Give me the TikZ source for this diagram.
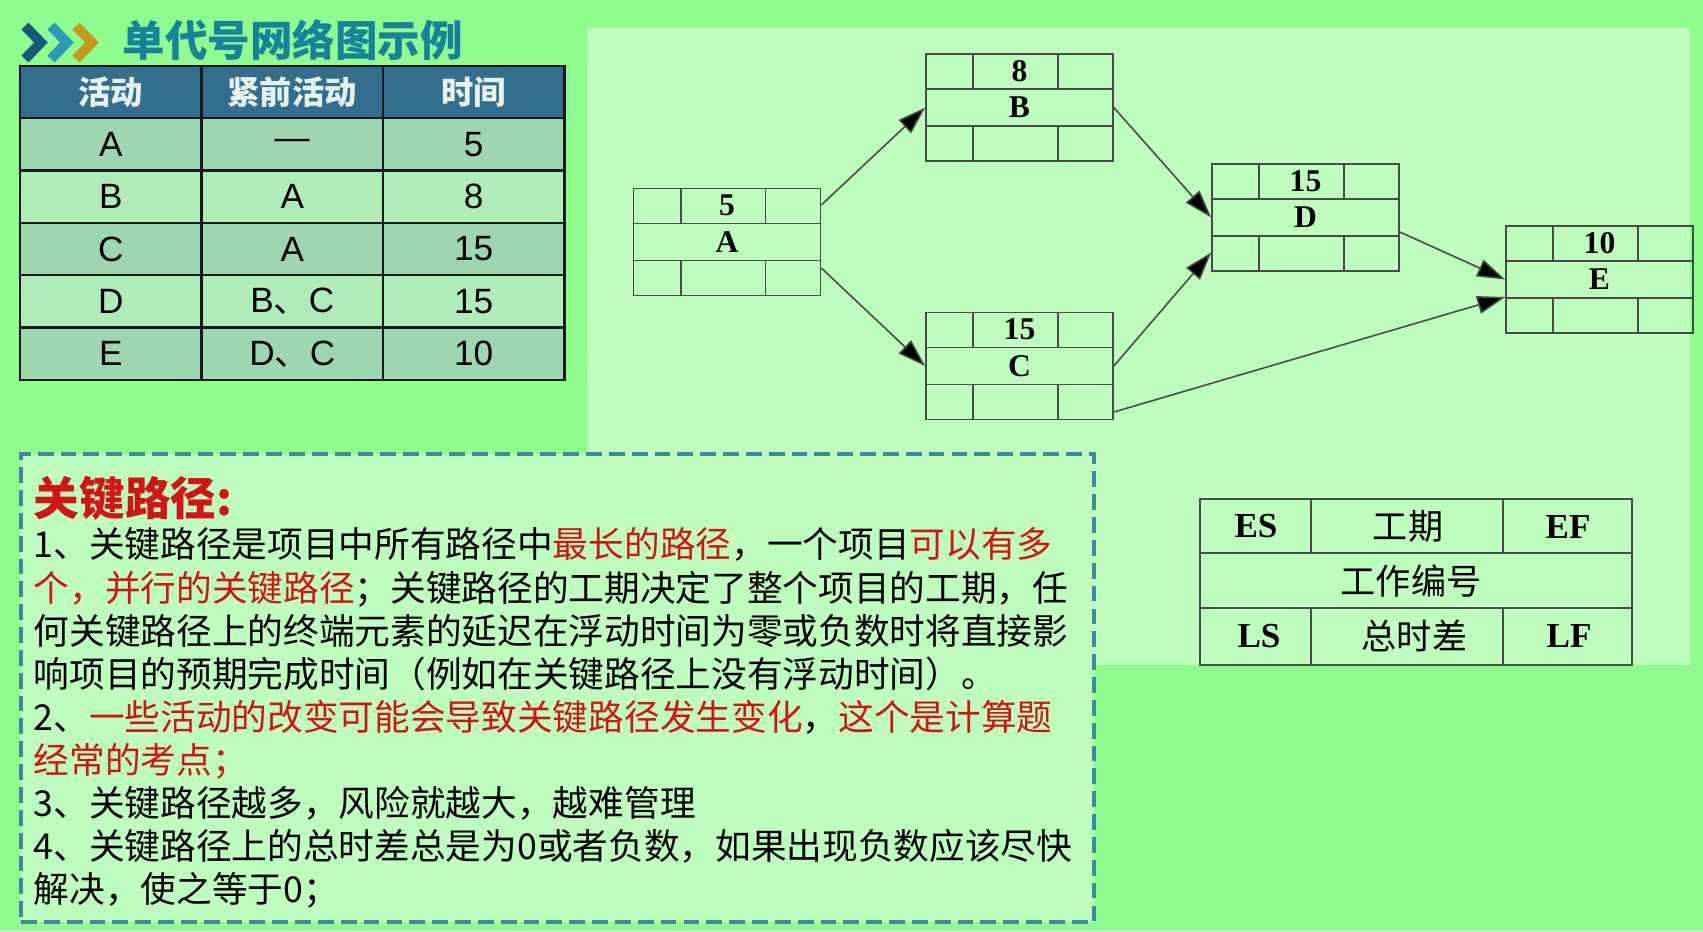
\documentclass[tikz,border=0pt]{standalone}
\usepackage{fontspec}
\usetikzlibrary{arrows.meta,positioning}
\setmainfont{Liberation Serif}
\newfontfamily\arialfont{Liberation Sans}
\newfontfamily\cjk{Noto Sans CJK SC}
\definecolor{SlideGreen}{HTML}{8EFC8E}
\definecolor{PanelGreen}{HTML}{BEFDBE}
\definecolor{HeadBlue}{HTML}{336E8E}
\definecolor{HeadText}{HTML}{E8F2EC}
\definecolor{RowDark}{HTML}{9DD6AF}
\definecolor{RowLight}{HTML}{AFECBA}
\definecolor{TitleTeal}{HTML}{16839A}
\definecolor{ChevDark}{HTML}{17597A}
\definecolor{ChevMid}{HTML}{2C9AB5}
\definecolor{ChevGold}{HTML}{C9971C}
\definecolor{DashTeal}{HTML}{3D8B96}
\definecolor{KeyRed}{HTML}{D01515}
\definecolor{BoxLine}{HTML}{4A4A4A}

\begin{document}
\begin{tikzpicture}[
  cell/.style={
    draw=black!90,
    line width=0.7pt,
    minimum width=1.815cm,
    minimum height=0.524cm,
    inner sep=0pt,
    font=\arialfont\fontsize{10}{12}\selectfont
  },
  headcell/.style={
    cell,
    fill=HeadBlue,
    text=HeadText,
    font=\cjk\bfseries\fontsize{9.2}{11}\selectfont
  },
  act/.style={
    draw=BoxLine,
    line width=0.45pt,
    minimum width=1.87cm,
    minimum height=1.07cm,
    inner sep=0pt,
    font=\bfseries\fontsize{9}{10}\selectfont
  },
  dur/.style={inner sep=0pt, font=\bfseries\fontsize{9}{10}\selectfont},
  grid/.style={draw=BoxLine, line width=0.45pt},
  keybox/.style={
    draw=BoxLine,
    line width=0.5pt,
    minimum width=4.32cm,
    minimum height=1.66cm,
    inner sep=0pt
  },
  keytext/.style={inner sep=0pt, font=\bfseries\fontsize{10}{12}\selectfont},
  keycjk/.style={inner sep=0pt, font=\cjk\fontsize{10}{12}\selectfont},
  notebox/.style={
    draw=DashTeal,
    line width=1.1pt,
    dash pattern=on 4.5pt off 2pt,
    fill=PanelGreen,
    minimum width=10.73cm,
    minimum height=4.68cm,
    inner sep=0pt
  },
  flow/.style={-{Triangle[length=2.8mm,width=1.8mm,fill=black]},line width=0.45pt,draw=BoxLine}
]
  \useasboundingbox (0,0) rectangle (17.03,-9.31);
  \fill[SlideGreen] (0,0) rectangle (17.03,-9.31);
  \fill[PanelGreen] (5.87,-0.28) rectangle (16.90,-6.65);

  \foreach \cx/\cc in {0.25/ChevDark,0.51/ChevMid,0.76/ChevGold}
    \draw[\cc, line width=2.8pt] (\cx,-0.26) -- (\cx+0.16,-0.425) -- (\cx,-0.59);
  \node[anchor=west, inner sep=0pt, text=TitleTeal,
        font=\cjk\bfseries\fontsize{12.1}{14}\selectfont] (title) at (1.22,-0.40) {单代号网络图示例};

  \node[headcell] (h1) at (1.1075,-0.92) {活动};
  \node[headcell] (h2) at (2.9225,-0.92) {紧前活动};
  \node[headcell] (h3) at (4.7375,-0.92) {时间};
  \foreach \a/\p/\t/\shade [count=\i] in {A/—/5/RowDark, B/A/8/RowLight, C/A/15/RowDark,
      D/{B{\cjk 、}C}/15/RowLight, E/{D{\cjk 、}C}/10/RowDark} {
    \node[cell, fill=\shade] (act\i) at (1.1075,{-1.18-(\i-0.5)*0.524}) {\a};
    \node[cell, fill=\shade] (pre\i) at (2.9225,{-1.18-(\i-0.5)*0.524}) {\p};
    \node[cell, fill=\shade] (time\i) at (4.7375,{-1.18-(\i-0.5)*0.524}) {\t};
  }

  \node[act] (A) at (7.27,-2.42) {A};
  \node[act] (B) at (10.195,-1.075) {B};
  \node[act] (C) at (10.195,-3.66) {C};
  \node[act] (D) at (13.055,-2.175) {D};
  \node[act] (E) at (15.995,-2.795) {E};
  \node[dur] (A-t) at ([yshift=-0.178cm]A.north) {5};
  \node[dur] (B-t) at ([yshift=-0.178cm]B.north) {8};
  \node[dur] (C-t) at ([yshift=-0.178cm]C.north) {15};
  \node[dur] (D-t) at ([yshift=-0.178cm]D.north) {15};
  \node[dur] (E-t) at ([yshift=-0.178cm]E.north) {10};
  \foreach \n in {A,B,C,D,E} {
    \draw[grid] ([yshift=-0.357cm]\n.north west) -- ([yshift=-0.357cm]\n.north east);
    \draw[grid] ([yshift=0.357cm]\n.south west) -- ([yshift=0.357cm]\n.south east);
    \draw[grid] ([xshift=0.48cm]\n.north west) -- ++(0,-0.357);
    \draw[grid] ([xshift=-0.56cm]\n.north east) -- ++(0,-0.357);
    \draw[grid] ([xshift=0.48cm]\n.south west) -- ++(0,0.357);
    \draw[grid] ([xshift=-0.56cm]\n.south east) -- ++(0,0.357);
  }

  \draw[flow] ([yshift=0.37cm]A.east) -- (B.west);
  \draw[flow] ([yshift=-0.26cm]A.east) -- (C.west);
  \draw[flow] (B.east) -- (D.west);
  \draw[flow] (C.east) -- ([yshift=-0.35cm]D.west);
  \draw[flow] ([yshift=-0.145cm]D.east) -- (E.west);
  \draw[flow] ([yshift=-0.46cm]C.east) -- ([yshift=-0.175cm]E.west);

  \node[keybox] (key) at (14.16,-5.82) {};
  \draw[grid] ([yshift=-0.55cm]key.north west) -- ([yshift=-0.55cm]key.north east);
  \draw[grid] ([yshift=0.58cm]key.south west) -- ([yshift=0.58cm]key.south east);
  \draw[grid] ([xshift=1.12cm]key.north west) -- ++(0,-0.55);
  \draw[grid] ([xshift=3.04cm]key.north west) -- ++(0,-0.55);
  \draw[grid] ([xshift=1.12cm]key.south west) -- ++(0,0.58);
  \draw[grid] ([xshift=3.04cm]key.south west) -- ++(0,0.58);
  \node[keytext] (es) at (12.56,-5.265) {ES};
  \node[keycjk] (span) at (14.08,-5.265) {工期};
  \node[keytext] (ef) at (15.68,-5.265) {EF};
  \node[keycjk] (code) at (14.11,-5.805) {工作编号};
  \node[keytext] (ls) at (12.59,-6.36) {LS};
  \node[keycjk] (float) at (14.145,-6.36) {总时差};
  \node[keytext] (lf) at (15.69,-6.36) {LF};

  \node[notebox] (notes) at (5.575,-6.88) {};
  \node[anchor=west, inner sep=0pt, text=KeyRed,
        font=\cjk\bfseries\fontsize{13}{15}\selectfont] (head) at ([xshift=0.14cm,yshift=-0.46cm]notes.north west) {关键路径:};
  \node[anchor=north west, inner sep=0pt, align=left,
        font=\cjk\fontsize{10.15}{12.27}\selectfont] (points) at ([xshift=0.14cm,yshift=-0.75cm]notes.north west) {%
1、关键路径是项目中所有路径中\textcolor{KeyRed}{最长的路径}，一个项目\textcolor{KeyRed}{可以有多}\\
\textcolor{KeyRed}{个，并行的关键路径}；关键路径的工期决定了整个项目的工期，任\\
何关键路径上的终端元素的延迟在浮动时间为零或负数时将直接影\\
响项目的预期完成时间（例如在关键路径上没有浮动时间）。\\
2、\textcolor{KeyRed}{一些活动的改变可能会导致关键路径发生变化}，\textcolor{KeyRed}{这个是计算题}\\
\textcolor{KeyRed}{经常的考点；}\\
3、关键路径越多，风险就越大，越难管理\\
4、关键路径上的总时差总是为0或者负数，如果出现负数应该尽快\\
解决，使之等于0；};
\end{tikzpicture}
\end{document}
